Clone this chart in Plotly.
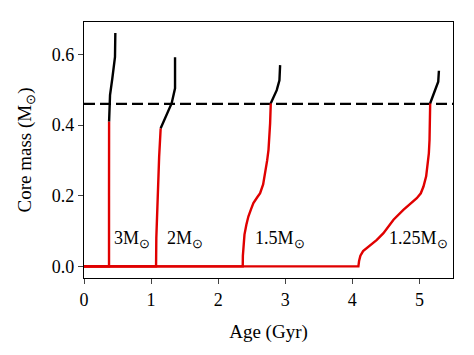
import plotly.graph_objects as go

# Red (pre-helium-flash) core mass tracks
m3_red_age = [0.0, 0.373, 0.373, 0.374]
m3_red_core = [0.0, 0.0, 0.20, 0.41]
m3_blk_age = [0.374, 0.388, 0.422, 0.462, 0.467]
m3_blk_core = [0.41, 0.485, 0.532, 0.593, 0.661]

m2_red_age = [0.0, 1.074, 1.078, 1.095, 1.12, 1.143]
m2_red_core = [0.0, 0.0, 0.08, 0.20, 0.31, 0.391]
m2_blk_age = [1.143, 1.22, 1.307, 1.357, 1.357]
m2_blk_core = [0.391, 0.425, 0.462, 0.504, 0.592]

m15_red_age = [0.0, 2.366, 2.368, 2.376, 2.392, 2.42, 2.45, 2.49, 2.525, 2.58, 2.625, 2.67, 2.70, 2.73, 2.75, 2.765, 2.774, 2.784]
m15_red_core = [0.0, 0.0, 0.03, 0.06, 0.09, 0.118, 0.141, 0.162, 0.179, 0.195, 0.207, 0.232, 0.264, 0.30, 0.33, 0.37, 0.405, 0.462]
m15_blk_age = [2.784, 2.84, 2.873, 2.913, 2.923]
m15_blk_core = [0.462, 0.485, 0.499, 0.527, 0.57]

m125_red_age = [0.0, 4.09, 4.10, 4.12, 4.16, 4.24, 4.365, 4.463, 4.613, 4.76, 4.96, 5.02, 5.06, 5.10, 5.12, 5.14, 5.15, 5.16]
m125_red_core = [0.0, 0.0, 0.015, 0.03, 0.043, 0.056, 0.075, 0.094, 0.132, 0.16, 0.193, 0.207, 0.226, 0.255, 0.282, 0.32, 0.358, 0.462]
m125_blk_age = [5.16, 5.21, 5.26, 5.28, 5.29]
m125_blk_core = [0.462, 0.488, 0.508, 0.523, 0.554]

flash_core_mass = 0.46

label_texts = ["3M<sub>⊙</sub>", "2M<sub>⊙</sub>", "1.5M<sub>⊙</sub>", "1.25M<sub>⊙</sub>"]
label_age = [0.41, 1.21, 2.52, 4.51]
label_core = [0.075, 0.075, 0.075, 0.075]

x_ticks = [0, 1, 2, 3, 4, 5]
y_ticks = [0.0, 0.2, 0.4, 0.6]
y_tick_labels = ["0.0", "0.2", "0.4", "0.6"]

RED = "#e00000"
FONT = "Liberation Serif"

fig = go.Figure()

fig.add_trace(go.Scatter(x=[0, 5.5], y=[flash_core_mass, flash_core_mass], mode="lines",
                         line=dict(color="black", width=2.3, dash="11px,5px"), showlegend=False))

tracks = [
    (m3_red_age, m3_red_core, m3_blk_age, m3_blk_core),
    (m2_red_age, m2_red_core, m2_blk_age, m2_blk_core),
    (m15_red_age, m15_red_core, m15_blk_age, m15_blk_core),
    (m125_red_age, m125_red_core, m125_blk_age, m125_blk_core),
]
for ra, rc, ba, bc in tracks:
    fig.add_trace(go.Scatter(x=ra, y=rc, mode="lines", line=dict(color=RED, width=2.4),
                             showlegend=False))
    fig.add_trace(go.Scatter(x=ba, y=bc, mode="lines", line=dict(color="black", width=2.4),
                             showlegend=False))

for t, ax_, ay_ in zip(label_texts, label_age, label_core):
    fig.add_annotation(x=ax_, y=ay_, text=t, showarrow=False, xanchor="left", yanchor="middle",
                       font=dict(family=FONT, size=18, color="black"))

fig.update_layout(
    width=474, height=355,
    margin=dict(l=84, r=21, t=22, b=77),
    plot_bgcolor="white", paper_bgcolor="white",
    font=dict(family=FONT, size=18, color="black"),
)
fig.update_xaxes(range=[0, 5.5], tickvals=x_ticks, ticks="outside", ticklen=5, tickwidth=1.2, automargin=False,
                 showline=True, linecolor="black", linewidth=1.3, mirror=True, showgrid=False, zeroline=False,
                 title=dict(text="Age (Gyr)", font=dict(family=FONT, size=19, color="black")),
                 tickfont=dict(family=FONT, size=18, color="black"))
fig.update_yaxes(range=[-0.033, 0.692], tickvals=y_ticks, ticktext=y_tick_labels, ticks="outside", ticklen=5,
                 tickwidth=1.2, showline=True, linecolor="black", linewidth=1.3, mirror=True, showgrid=False,
                 automargin=False, zeroline=False,
                 title=dict(text="Core mass (M<sub>⊙</sub>)", font=dict(family=FONT, size=19, color="black")),
                 tickfont=dict(family=FONT, size=18, color="black"))

fig.write_html("out.html", config={"displayModeBar": False},
               post_script="document.body.style.margin='0';document.body.style.overflow='hidden';")
